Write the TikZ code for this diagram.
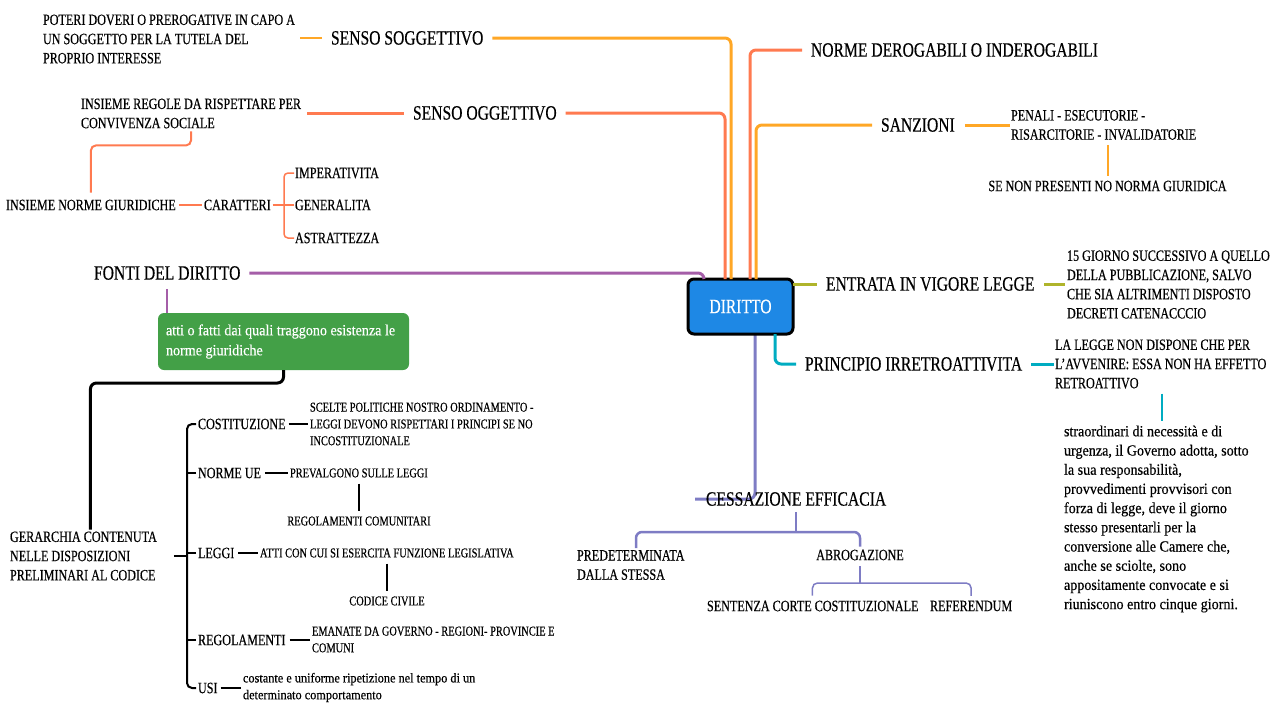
\documentclass[tikz,border=0pt]{standalone}
\usepackage{fontspec}
\usetikzlibrary{backgrounds}
\newfontfamily\mapfont[FakeStretch=0.77,FakeBold=0.4]{Liberation Serif}
\newfontfamily\mapwide[FakeStretch=0.91,FakeBold=0.4]{Liberation Serif}
\definecolor{mapblue}{HTML}{1E88E5}
\definecolor{mapgreen}{HTML}{43A047}
\definecolor{maporange}{HTML}{FFA726}
\definecolor{mapcoral}{HTML}{FF7A50}
\definecolor{mappurple}{HTML}{A55EA8}
\definecolor{mapolive}{HTML}{AFB42B}
\definecolor{mapteal}{HTML}{00ACC1}
\definecolor{mapindigo}{HTML}{7E7CC4}
\tikzset{
  every node/.style={inner sep=0pt, outer sep=0pt, align=left, anchor=west, text=black},
  bigtxt/.style={font=\mapfont\fontsize{20.3}{24}\selectfont},
  midtxt/.style={font=\mapfont\fontsize{15.75}{19.2}\selectfont},
  smalltxt/.style={font=\mapfont\fontsize{13.5}{16.8}\selectfont},
  midwide/.style={font=\mapwide\fontsize{15.5}{19.2}\selectfont},
  smallwide/.style={font=\mapwide\fontsize{13.5}{16.8}\selectfont},
  thick3/.style={line width=3pt, rounded corners=6pt},
  thick2/.style={line width=2pt, rounded corners=5pt},
  thin1/.style={line width=1.5pt},
  gap/.style 2 args={shorten <=#1, shorten >=#2},
}
\begin{document}
\begin{tikzpicture}[x=1pt,y=-1pt]
\useasboundingbox (0,0) rectangle (1280,720);
\node (diritto) [draw=black, line width=3pt, fill=mapblue, rounded corners=6pt, anchor=center,
  minimum width=105pt, minimum height=55pt, bigtxt, text=white] at (740.5,306.5) {DIRITTO};

\node (poteri) [midtxt] at (43,39) {POTERI DOVERI O PREROGATIVE IN CAPO A\\UN SOGGETTO PER LA TUTELA DEL\\PROPRIO INTERESSE};
\node (soggettivo) [bigtxt] at (331,38) {SENSO SOGGETTIVO};
\node (regole) [midtxt] at (81,113.5) {INSIEME REGOLE DA RISPETTARE PER\\CONVIVENZA SOCIALE};
\node (oggettivo) [bigtxt] at (413,113) {SENSO OGGETTIVO};
\node (insieme) [midtxt] at (6,205) {INSIEME NORME GIURIDICHE};
\node (caratteri) [midtxt] at (204,205) {CARATTERI};
\node (imperativita) [midtxt] at (295,173) {IMPERATIVITA};
\node (generalita) [midtxt] at (295,205) {GENERALITA};
\node (astrattezza) [midtxt] at (295,238) {ASTRATTEZZA};
\node (fonti) [bigtxt] at (94,273) {FONTI DEL DIRITTO};
\node (verde) [fill=mapgreen, rounded corners=6pt, anchor=center, minimum width=251pt, minimum height=57pt] at (283.5,341.5) {};
\node (attifatti) [midwide, text=white, font=\mapwide\fontsize{15.5}{20}\selectfont] at (166,341.5) {atti o fatti dai quali traggono esistenza le\\norme giuridiche};

\node (gerarchia) [midtxt] at (10,556) {GERARCHIA CONTENUTA\\NELLE DISPOSIZIONI\\PRELIMINARI AL CODICE};
\node (costituzione) [midtxt] at (198,424) {COSTITUZIONE};
\node (scelte) [smalltxt] at (310,424) {SCELTE POLITICHE NOSTRO ORDINAMENTO -\\LEGGI DEVONO RISPETTARI I PRINCIPI SE NO\\INCOSTITUZIONALE};
\node (normeue) [midtxt] at (198,473) {NORME UE};
\node (prevalgono) [smalltxt] at (290,473) {PREVALGONO SULLE LEGGI};
\node (comunitari) [smalltxt, anchor=center] at (359,521) {REGOLAMENTI COMUNITARI};
\node (leggi) [midtxt] at (198,553) {LEGGI};
\node (atti) [smalltxt] at (260,553) {ATTI CON CUI SI ESERCITA FUNZIONE LEGISLATIVA};
\node (civile) [smalltxt, anchor=center] at (387,601) {CODICE CIVILE};
\node (regolamenti) [midtxt] at (198,640) {REGOLAMENTI};
\node (emanate) [smalltxt] at (312,639.5) {EMANATE DA GOVERNO - REGIONI- PROVINCIE E\\COMUNI};
\node (usi) [midtxt] at (198,688) {USI};
\node (costante) [smallwide] at (243,687.5) {costante e uniforme ripetizione nel tempo di un\\determinato comportamento};

\node (norme) [bigtxt] at (811,50) {NORME DEROGABILI O INDEROGABILI};
\node (sanzioni) [bigtxt] at (881,125) {SANZIONI};
\node (penali) [midtxt] at (1011,125) {PENALI - ESECUTORIE -\\RISARCITORIE - INVALIDATORIE};
\node (senonpresenti) [midtxt, anchor=center] at (1107.5,186) {SE NON PRESENTI NO NORMA GIURIDICA};
\node (entrata) [bigtxt] at (826,284) {ENTRATA IN VIGORE LEGGE};
\node (giorno) [midtxt] at (1067,284.5) {15 GIORNO SUCCESSIVO A QUELLO\\DELLA PUBBLICAZIONE, SALVO\\CHE SIA ALTRIMENTI DISPOSTO\\DECRETI CATENACCCIO};
\node (principio) [bigtxt] at (805,364) {PRINCIPIO IRRETROATTIVITA};
\node (dispone) [midtxt] at (1055,364) {LA LEGGE NON DISPONE CHE PER\\L’AVVENIRE: ESSA NON HA EFFETTO\\RETROATTIVO};
\node (straordinari) [midwide] at (1064,519) {straordinari di necessità e di\\urgenza, il Governo adotta, sotto\\la sua responsabilità,\\provvedimenti provvisori con\\forza di legge, deve il giorno\\stesso presentarli per la\\conversione alle Camere che,\\anche se sciolte, sono\\appositamente convocate e si\\riuniscono entro cinque giorni.};

\node (cessazione) [bigtxt] at (706,499) {CESSAZIONE EFFICACIA};
\node (predeterminata) [midtxt] at (577,565) {PREDETERMINATA\\DALLA STESSA};
\node (abrogazione) [midtxt, anchor=center] at (860,555) {ABROGAZIONE};
\node (sentenza) [midtxt] at (707,606) {SENTENZA CORTE COSTITUZIONALE};
\node (referendum) [midtxt] at (930,606) {REFERENDUM};

\coordinate (trunk) at (187,556);
\coordinate (cessbar) at (794.5,532);
\coordinate (abrobar) at (860,583);
\coordinate (tealdrop) at (1162,421);

\draw [maporange, thick3, gap={9pt}{0pt}] (soggettivo.east) -| ([xshift=-9.5pt]diritto.north);
\draw [maporange, thick2, line width=2.5pt] ([xshift=-9pt]soggettivo.west) -- ([xshift=-31pt]soggettivo.west);
\draw [mapcoral, thick3, gap={9pt}{0pt}] (oggettivo.east) -| ([xshift=-15.5pt]diritto.north);
\draw [mapcoral, thick3] ([xshift=-106pt]oggettivo.west) -- ([xshift=-9pt]oggettivo.west);
\draw [mapcoral, thick2, gap={3pt}{7pt}] (regole.south) -- ++(0,17) -| (insieme.north);
\draw [mapcoral, thin1, gap={3pt}{2pt}] (insieme.east) -- (caratteri.west);
\draw [mapcoral, thin1, gap={2pt}{1pt}] (caratteri.east) -- (generalita.west);
\draw [mapcoral, line width=1.5pt, rounded corners=4pt, gap={1pt}{1pt}] (imperativita.west) -| ([xshift=-11pt]generalita.west) |- (astrattezza.west);
\draw [mappurple, thick3, gap={9pt}{0pt}] (fonti.east) -| ([xshift=-36.5pt]diritto.north);
\draw [mappurple, thick2, gap={9pt}{0pt}] (fonti.south) -- (fonti.south |- verde.north);

\draw [black, thick3, gap={0pt}{2pt}] (verde.south) -- ++(0,13) -| ([xshift=7pt]gerarchia.north);
\draw [black, thick2, gap={17pt}{0pt}] (gerarchia.east) -- (trunk);
\draw [black, thick2] ([xshift=-2pt]costituzione.west) -| (trunk) |- ([xshift=-2pt]usi.west);
\draw [black, thick2, gap={2pt}{0pt}] (normeue.west) -- (normeue.west -| trunk);
\draw [black, thick2, gap={2pt}{0pt}] (leggi.west) -- (leggi.west -| trunk);
\draw [black, thick2, gap={2pt}{0pt}] (regolamenti.west) -- (regolamenti.west -| trunk);
\draw [black, thick2, gap={3pt}{2pt}] (costituzione.east) -- (scelte.west);
\draw [black, thick2, gap={4pt}{2pt}] (normeue.east) -- (prevalgono.west);
\draw [black, thick2, gap={4pt}{2pt}] (leggi.east) -- (atti.west);
\draw [black, thick2, gap={4pt}{2pt}] (regolamenti.east) -- (emanate.west |- regolamenti);
\draw [black, thick2, gap={3pt}{2pt}] (usi.east) -- (costante.west |- usi);
\draw [black, thin1, gap={6pt}{5pt}] (prevalgono.south -| comunitari) -- (comunitari.north);
\draw [black, thin1, gap={6pt}{5pt}] (atti.south -| civile) -- (civile.north);

\draw [mapcoral, thick3, gap={9pt}{0pt}] (norme.west) -| ([xshift=9.5pt]diritto.north);
\draw [maporange, thick3, gap={9pt}{0pt}] (sanzioni.west) -| ([xshift=15.5pt]diritto.north);
\draw [maporange, thick3, gap={10pt}{1pt}] (sanzioni.east) -- (penali.west);
\draw [maporange, line width=2pt, gap={5pt}{5pt}] (penali.south -| senonpresenti) -- (senonpresenti.north);
\draw [mapolive, thick3] (diritto.east |- entrata) -- ([xshift=-9pt]entrata.west);
\draw [mapolive, thick3, gap={10pt}{2pt}] (entrata.east) -- (giorno.west |- entrata);
\draw [mapteal, thick3] ([xshift=34.5pt]diritto.south) |- ([xshift=-9pt]principio.west);
\draw [mapteal, thick3, gap={9pt}{1pt}] (principio.east) -- (dispone.west);
\draw [mapteal, thin1, gap={5pt}{0pt}] (dispone.south -| tealdrop) -- (tealdrop);

\begin{scope}[on background layer]
\draw [mapindigo, thick3] ([xshift=14.5pt]diritto.south) |- ([xshift=-11pt]cessazione.west);
\end{scope}
\draw [mapindigo, thick2, gap={6pt}{0pt}] (cessazione.south) -- (cessazione.south |- cessbar);
\draw [mapindigo, line width=2.5pt, rounded corners=6pt, gap={2pt}{3pt}] ([xshift=59pt]predeterminata.north west) |- (cessbar) -| (abrogazione.north);
\draw [mapindigo, line width=1.5pt, gap={6pt}{0pt}] (abrogazione.south) -- (abrobar);
\draw [mapindigo, line width=1.5pt, rounded corners=5pt, gap={5pt}{5pt}] ([xshift=-106pt]sentenza.north east) |- (abrobar) -| (referendum.north);
\end{tikzpicture}
\end{document}
